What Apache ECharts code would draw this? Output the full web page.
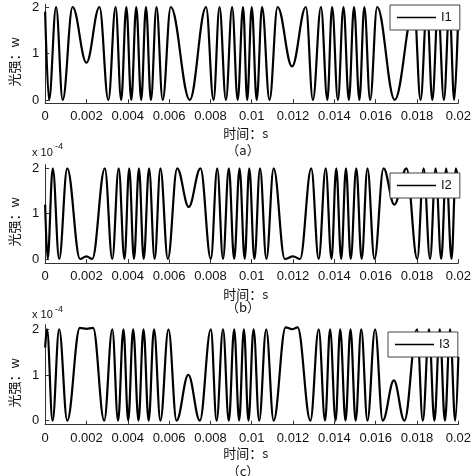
<!DOCTYPE html>
<html>
<head>
<meta charset="utf-8">
<script src="https://cdn.jsdelivr.net/npm/echarts@6/dist/echarts.min.js"></script>
<style>
  html, body { margin: 0; padding: 0; background: #fff; }
  #main { width: 474px; height: 476px; }
</style>
</head>
<body>
<div id="main"></div>
<script>
// extrema of each trace (time in s)
// I1 in w, I2 and I3 in units of 1e-4 w
const i1Time = [0, 0.00019, 0.00053, 0.00085, 0.00133, 0.00200, 0.00263, 0.00306, 0.00341, 0.00368,
  0.00393, 0.00417, 0.00441, 0.00465, 0.00488, 0.00512, 0.00539, 0.00569, 0.00608, 0.00700,
  0.00779, 0.00815, 0.00844, 0.00875, 0.00905, 0.00932, 0.00958, 0.00978, 0.01000, 0.01024,
  0.01050, 0.01086, 0.01125, 0.01195, 0.01262, 0.01296, 0.01335, 0.01366, 0.01389, 0.01417,
  0.01444, 0.01470, 0.01495, 0.01521, 0.01545, 0.01573, 0.01607, 0.01692, 0.01786, 0.01817,
  0.01848, 0.01874, 0.01902, 0.01930, 0.01957, 0.01980, 0.02000];
const i1Value = [1.9, 0, 2, 0, 2, 0.8, 2, 0, 2, 0,
  2, 0, 2, 0, 2, 0, 2, 0, 2, 0,
  2, 0, 2, 0, 2, 0, 2, 0, 2, 0,
  2, 0, 2, 0.72, 2, 0, 2, 0, 2, 0,
  2, 0, 2, 0, 2, 0, 2, 0, 2, 0,
  2, 0, 2, 0, 2, 0, 1.9];

const i2Time = [0, 0.00012, 0.00037, 0.00068, 0.00107, 0.00169, 0.00200, 0.00228, 0.00289, 0.00325,
  0.00356, 0.00384, 0.00407, 0.00430, 0.00454, 0.00477, 0.00503, 0.00530, 0.00558, 0.00594,
  0.00639, 0.00695, 0.00752, 0.00802, 0.00833, 0.00861, 0.00889, 0.00915, 0.00941, 0.00966,
  0.00988, 0.01013, 0.01040, 0.01071, 0.01106, 0.01160, 0.01200, 0.01234, 0.01288, 0.01324,
  0.01358, 0.01386, 0.01409, 0.01433, 0.01456, 0.01479, 0.01506, 0.01532, 0.01560, 0.01594,
  0.01638, 0.01690, 0.01749, 0.01801, 0.01832, 0.01863, 0.01890, 0.01917, 0.01941, 0.01967,
  0.01988, 0.02000];
const i2Value = [1.2, 0, 2, 0, 2, 0, 0.06, 0, 2, 0,
  2, 0, 2, 0, 2, 0, 2, 0, 2, 0,
  2, 1.15, 2, 0, 2, 0, 2, 0, 2, 0,
  2, 0, 2, 0, 2, 0, 0.06, 0, 2, 0,
  2, 0, 2, 0, 2, 0, 2, 0, 2, 0,
  2, 1.2, 2, 0, 2, 0, 2, 0, 2, 0,
  2, 1.7];

const i3Time = [0, 0.00009, 0.00036, 0.00068, 0.00107, 0.00168, 0.00200, 0.00232, 0.00286, 0.00325,
  0.00353, 0.00379, 0.00402, 0.00426, 0.00452, 0.00476, 0.00501, 0.00527, 0.00558, 0.00597,
  0.00636, 0.00693, 0.00749, 0.00802, 0.00830, 0.00861, 0.00889, 0.00915, 0.00939, 0.00962,
  0.00984, 0.01009, 0.01036, 0.01070, 0.01106, 0.01164, 0.01195, 0.01222, 0.01284, 0.01324,
  0.01355, 0.01379, 0.01406, 0.01428, 0.01454, 0.01478, 0.01503, 0.01530, 0.01560, 0.01597,
  0.01634, 0.01688, 0.01739, 0.01800, 0.01828, 0.01858, 0.01884, 0.01910, 0.01935, 0.01960,
  0.01985, 0.02000];
const i3Value = [1.6, 2, 0, 2, 0, 2.03, 2.01, 2.03, 0, 2,
  0, 2, 0, 2, 0, 2, 0, 2, 0, 2,
  0, 1.0, 0, 2, 0, 2, 0, 2, 0, 2,
  0, 2, 0, 2, 0, 2.04, 2.0, 2.04, 0, 2,
  0, 2, 0, 2, 0, 2, 0, 2, 0, 2,
  0, 0.88, 0, 2, 0, 2, 0, 2, 0, 2,
  0, 1.4];

const xTicks = { min: 0, max: 0.02, interval: 0.002 };
const yTickValues = [0, 1, 2];
const seriesNames = ['I1', 'I2', 'I3'];
const panelTags = ['（a）', '（b）', '（c）'];

const sans = 'Liberation Sans, Arial, sans-serif';
const cjk = 'Noto Sans CJK SC, sans-serif';

// pixel layout of the three panels
const panels = [
  { top: 4.2, height: 99, ymin: -0.07, ymax: 2.06, nameGap: 23, legendTop: 5, legendLeft: 390, tagY: 150 },
  { top: 164.7, height: 98.4, ymin: -0.09, ymax: 2.08, nameGap: 24, legendTop: 173, legendLeft: 390, tagY: 307 },
  { top: 324.7, height: 100, ymin: -0.09, ymax: 2.1, nameGap: 22, legendTop: 332, legendLeft: 388, tagY: 471 }
];

function pairs(t, v) {
  return t.map((x, k) => [x, v[k]]);
}
const allData = [pairs(i1Time, i1Value), pairs(i2Time, i2Value), pairs(i3Time, i3Value)];

const grid = [], xAxis = [], yAxis = [], series = [], legend = [], graphic = [];

panels.forEach((p, i) => {
  grid.push({ left: 32, width: 429, top: p.top, height: p.height });
  xAxis.push({
    type: 'value', gridIndex: i,
    min: xTicks.min, max: xTicks.max, interval: xTicks.interval,
    axisLine: { onZero: false, lineStyle: { color: '#333', width: 1 } },
    axisTick: { inside: true, length: 4, lineStyle: { color: '#333' } },
    axisLabel: {
      color: '#111', fontFamily: sans, fontSize: 13, margin: 7,
      formatter: v => String(+v.toFixed(3))
    },
    splitLine: { show: false },
    name: '时间：s', nameLocation: 'middle', nameGap: p.nameGap,
    nameTextStyle: { fontFamily: cjk, fontSize: 13, color: '#111', padding: [0, 12, 0, 0] }
  });
  yAxis.push({
    type: 'value', gridIndex: i, min: p.ymin, max: p.ymax,
    axisLine: { show: true, onZero: false, lineStyle: { color: '#333', width: 1 } },
    axisTick: { show: true, inside: true, length: 4, customValues: yTickValues, lineStyle: { color: '#333' } },
    axisLabel: { customValues: yTickValues, color: '#111', fontFamily: sans, fontSize: 13, margin: 6 },
    splitLine: { show: false },
    name: '光强：w', nameLocation: 'middle', nameGap: 14,
    nameTextStyle: { fontFamily: cjk, fontSize: 13, color: '#111', padding: [0, 16, 0, 0] }
  });
  series.push({
    name: seriesNames[i], type: 'line', xAxisIndex: i, yAxisIndex: i,
    data: allData[i], symbol: 'none', smooth: 0.38, smoothMonotone: 'x',
    lineStyle: { color: '#000', width: 2.2 }, itemStyle: { color: '#000' },
    animation: false
  });
  legend.push({
    data: [seriesNames[i]], left: p.legendLeft, top: p.legendTop,
    orient: 'vertical', padding: [6, 8, 6, 7],
    icon: 'rect', itemWidth: 39, itemHeight: 1.6,
    itemStyle: { color: '#000' },
    borderColor: '#444', borderWidth: 1, borderRadius: 0, backgroundColor: '#fff',
    textStyle: { fontFamily: sans, fontSize: 13, color: '#111' }
  });
  graphic.push({
    type: 'text', x: 243, y: p.tagY,
    style: { text: panelTags[i], font: '13px ' + cjk, fill: '#111', align: 'center', verticalAlign: 'middle' }
  });
});

// scale factor marks for panels (b) and (c)
[[153, 147], [315, 310]].forEach(([y0, y1]) => {
  graphic.push({
    type: 'text', x: 32, y: y0,
    style: { text: 'x 10', font: '11px ' + sans, fill: '#111', align: 'left', verticalAlign: 'middle' }
  });
  graphic.push({
    type: 'text', x: 55, y: y1,
    style: { text: '-4', font: '9px ' + sans, fill: '#111', align: 'left', verticalAlign: 'middle' }
  });
});

const chart = echarts.init(document.getElementById('main'));
chart.setOption({
  backgroundColor: '#fff',
  animation: false,
  grid: grid,
  xAxis: xAxis,
  yAxis: yAxis,
  legend: legend,
  graphic: graphic,
  series: series
});
</script>
</body>
</html>
